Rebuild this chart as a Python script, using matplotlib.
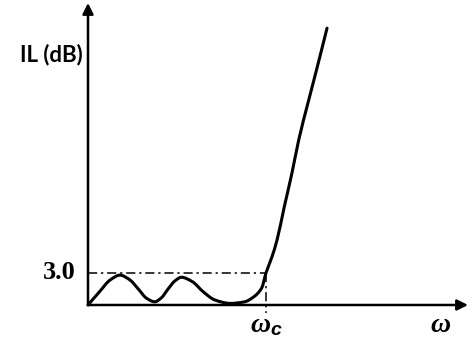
import numpy as np
import matplotlib
matplotlib.use("Agg")
import matplotlib.pyplot as plt
from matplotlib.path import Path
from matplotlib.patches import PathPatch

# curve: omega / omega_c  vs  IL (dB)
w = [0.0, 0.065, 0.124, 0.18, 0.236, 0.28, 0.33, 0.375, 0.412, 0.45, 0.488,
     0.525, 0.585, 0.65, 0.713, 0.80, 0.88, 0.93, 0.976,
     1.0, 1.034, 1.062, 1.103, 1.146, 1.184, 1.236, 1.281, 1.343]
il = [0.0, 1.25, 2.34, 2.8, 2.34, 1.55, 0.62, 0.3, 0.67, 1.5, 2.25,
      2.6, 2.2, 1.2, 0.47, 0.15, 0.3, 0.75, 1.6,
      3.0, 4.53, 6.09, 9.22, 12.37, 15.47, 18.94, 21.84, 25.94]
il_c = 3.0
wc = 1.0
xmax, ymax = 2.135, 28.3

plt.rcParams['mathtext.fontset'] = 'custom'
plt.rcParams['mathtext.it'] = 'Liberation Serif:italic:bold'
plt.rcParams['mathtext.rm'] = 'Liberation Serif:bold'
plt.rcParams['mathtext.sf'] = 'Liberation Sans:italic:bold'


def smooth_path(x, y):
    # monotone cubic (pchip style) through the read points, as bezier segments
    x = np.asarray(x, float)
    y = np.asarray(y, float)
    h = np.diff(x)
    d = np.diff(y) / h
    m = np.zeros_like(y)
    for i in range(1, len(x) - 1):
        if d[i - 1] * d[i] > 0:
            w1 = 2 * h[i] + h[i - 1]
            w2 = h[i] + 2 * h[i - 1]
            m[i] = (w1 + w2) / (w1 / d[i - 1] + w2 / d[i])
    m[0] = d[0]
    m[-1] = d[-1]
    verts = [(x[0], y[0])]
    codes = [Path.MOVETO]
    for i in range(len(x) - 1):
        verts += [(x[i] + h[i] / 3, y[i] + m[i] * h[i] / 3),
                  (x[i + 1] - h[i] / 3, y[i + 1] - m[i + 1] * h[i] / 3),
                  (x[i + 1], y[i + 1])]
        codes += [Path.CURVE4] * 3
    return Path(verts, codes)


fig = plt.figure(figsize=(4.74, 3.51), dpi=100)
ax = fig.add_axes([88 / 474, 46 / 351, 380 / 474, 302 / 351])
ax.set_xlim(0, xmax)
ax.set_ylim(0, ymax)
ax.axis('off')

# axes with arrows
ax.annotate('', xy=(1, 0), xytext=(0, 0), xycoords='axes fraction',
            arrowprops=dict(arrowstyle='-|>', lw=1.8, color='black',
                            mutation_scale=16, shrinkA=0, shrinkB=0))
ax.annotate('', xy=(0, 1), xytext=(0, 0), xycoords='axes fraction',
            arrowprops=dict(arrowstyle='-|>', lw=1.8, color='black',
                            mutation_scale=16, shrinkA=0, shrinkB=0))

# 3 dB guide lines
ax.plot([0, wc], [il_c, il_c], color='black', lw=1.1,
        linestyle=(0, (6, 2.5, 1.5, 2.5)))
ax.plot([wc, wc], [il_c, -0.75], color='black', lw=1.1,
        linestyle=(0, (6, 2.5, 1.5, 2.5)), clip_on=False)

ax.add_patch(PathPatch(smooth_path(w, il), fill=False, lw=2.2,
                       edgecolor='black', capstyle='round', clip_on=False))

ax.text(-0.028, 23.5, 'IL (dB)', ha='right', va='center', fontsize=16,
        fontweight='bold', family='Lato')
ax.text(-0.067, il_c, '3.0', ha='right', va='center', fontsize=19,
        fontweight='bold', family='Liberation Serif')
ax.text(wc, -1.8, r'$\omega_{\mathsf{c}}$', ha='center', va='center', fontsize=20)
ax.text(1.98, -1.8, r'$\omega$', ha='center', va='center', fontsize=20)

fig.savefig('out.png', dpi=100)
